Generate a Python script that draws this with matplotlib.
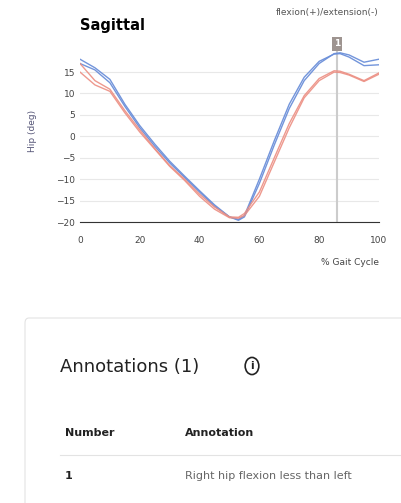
import numpy as np
import matplotlib
matplotlib.use("Agg")
import matplotlib.pyplot as plt
from matplotlib.patches import FancyBboxPatch, Circle

# gait cycle samples (%)
pct = [0, 5, 10, 15, 20, 25, 30, 35, 40, 45, 50, 53, 55, 60, 65, 70, 75, 80, 85, 87, 90, 95, 100]
blue_a = [18, 16, 13.3, 7.5, 2.5, -1.8, -5.8, -9.3, -12.7, -16, -18.8, -19.6, -18.8, -11, -2, 6.5, 13, 17, 19.3, 19.5, 19, 17.3, 18]
blue_b = [17, 15.5, 12.5, 7, 2, -2.3, -6.2, -9.6, -13, -16.3, -18.8, -19.4, -18.5, -10, -1, 7.5, 13.8, 17.5, 19.2, 19.3, 18.5, 16.5, 16.7]
red_a = [17, 13, 11, 6, 1.5, -2.8, -6.8, -10, -13.5, -16.5, -18.8, -18.9, -18, -13, -5, 3, 9.5, 13.5, 15.3, 15.2, 14.5, 13, 14.8]
red_b = [15, 12, 10.5, 5.5, 1, -3, -7, -10.3, -14, -17, -19, -19.1, -18.5, -14, -6, 2, 9, 13, 15, 14.9, 14.3, 12.8, 14.5]
yticks = [-20, -15, -10, -5, 0, 5, 10, 15]
xticks = [0, 20, 40, 60, 80, 100]
marker_x = 86

BLUE = "#6b8fd9"
RED = "#ec8e82"
GREY = "#555555"

fig = plt.figure(figsize=(4.01, 5.03), dpi=100)
ax = fig.add_axes([0.1995, 0.5586, 0.7455, 0.362])

for y in (blue_a, blue_b):
    ax.plot(pct, y, color=BLUE, lw=1.0, alpha=0.95, zorder=3)
for y in (red_a, red_b):
    ax.plot(pct, y, color=RED, lw=1.0, alpha=0.9, zorder=3)

ax.axvline(marker_x, color="#cccccc", lw=1.5, zorder=2)
ax.set_xlim(0, 100)
ax.set_ylim(-20, 22.5)
ax.set_yticks(yticks)
ax.set_xticks(xticks)
ax.grid(axis="y", color="#e8e8e8", lw=0.8)
ax.set_axisbelow(True)
for s in ("top", "right", "left"):
    ax.spines[s].set_visible(False)
ax.spines["bottom"].set_color("#333333")
ax.tick_params(length=0, labelsize=6.5, colors="#444444")
ax.tick_params(axis="x", pad=10)
ax.set_ylabel("Hip (deg)", fontsize=6.5, color="#555577", labelpad=14)
ax.text(1.0, -0.2, "% Gait Cycle", transform=ax.transAxes, ha="right", va="top",
        fontsize=6.5, color="#444444")

# marker tag
ax.annotate("1", (marker_x, 21.6), ha="center", va="center", fontsize=6.5,
            color="white", fontweight="bold", annotation_clip=False,
            bbox=dict(boxstyle="square,pad=0.25", fc="#9e9490", ec="none"))

fig.text(0.2, 0.95, "Sagittal", fontsize=10.5, fontweight="bold", va="center")
fig.text(0.945, 0.976, "flexion(+)/extension(-)", fontsize=6.5, color=GREY,
         ha="right", va="center")

# annotations card
card = FancyBboxPatch((25 / 401, -0.05), 1.0, 1 - 318 / 503 + 0.05,
                      boxstyle="round,pad=0,rounding_size=0.01",
                      transform=fig.transFigure, fc="white", ec="#e3e3e3", lw=0.8)
fig.patches.append(card)
fig.text(60 / 401, 1 - 367 / 503, "Annotations (1)", fontsize=13, color="#222222",
         va="center")
fig.patches.append(Circle((252 / 401, 1 - 366 / 503), 0.017, transform=fig.transFigure,
                          fc="none", ec="#222222", lw=1.2))
fig.text(252 / 401, 1 - 366 / 503, "i", fontsize=7.5, fontweight="bold", ha="center",
         va="center", color="#222222")
fig.text(65 / 401, 1 - 433 / 503, "Number", fontsize=8, fontweight="bold", va="center",
         color="#222222")
fig.text(185 / 401, 1 - 433 / 503, "Annotation", fontsize=8, fontweight="bold",
         va="center", color="#222222")
fig.add_artist(plt.Line2D([60 / 401, 1], [1 - 455 / 503] * 2, color="#e3e3e3", lw=0.8))
fig.text(65 / 401, 1 - 476 / 503, "1", fontsize=8, fontweight="bold", va="center",
         color="#222222")
fig.text(185 / 401, 1 - 476 / 503, "Right hip flexion less than left", fontsize=8,
         va="center", color="#666666")

fig.savefig("out.png", dpi=100)
